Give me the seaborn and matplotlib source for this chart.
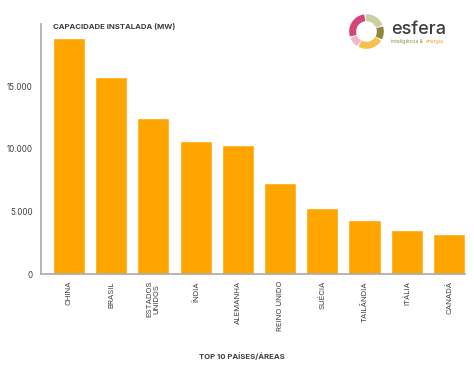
import matplotlib
matplotlib.use("Agg")
import matplotlib.pyplot as plt
import seaborn as sns
import pandas as pd
from matplotlib.patches import Wedge

# data
countries = ["CHINA", "BRASIL", "ESTADOS\nUNIDOS", "ÍNDIA", "ALEMANHA",
             "REINO UNIDO", "SUÉCIA", "TAILÂNDIA", "ITÁLIA", "CANADÁ"]
capacity_mw = [18900, 15800, 12500, 10650, 10330, 7280, 5320, 4360, 3510, 3230]
yticks = [0, 5000, 10000, 15000]
ytick_labels = ["0", "5.000", "10.000", "15.000"]

BAR = "#FFA500"
TXT = "#3f3f3f"
SPINE = "#a9a9a9"

sns.set_style("white")
plt.rcParams["font.family"] = ["Inter", "DejaVu Sans"]

df = pd.DataFrame({"pais": countries, "mw": capacity_mw})

fig = plt.figure(figsize=(4.74, 3.81), dpi=100)
ax = fig.add_axes([41 / 474, 1 - 274 / 381, (465 - 41) / 474, (274 - 24) / 381])

sns.barplot(data=df, x="pais", y="mw", color=BAR, width=0.76, saturation=1, ax=ax)

ax.set_xlim(-0.66, 9.38)
ax.set_ylim(0, 20000)
ax.set_yticks(yticks)
ax.set_yticklabels(ytick_labels, fontsize=5.8, color=TXT)
ax.tick_params(axis="y", length=0, pad=6)
ax.tick_params(axis="x", length=0, pad=5)
for lab in ax.get_xticklabels():
    lab.set_rotation(90)
    lab.set_fontsize(5.6)
    lab.set_color(TXT)
    lab.set_multialignment("center")
ax.set_xlabel("")
ax.set_ylabel("")

for side in ["top", "right"]:
    ax.spines[side].set_visible(False)
for side in ["left", "bottom"]:
    ax.spines[side].set_color(SPINE)
    ax.spines[side].set_linewidth(1.2)

fig.text(53 / 474, 1 - 27 / 381, "CAPACIDADE INSTALADA (MW)", fontsize=5.6,
         fontweight="bold", color=TXT, ha="left", va="center")
fig.text(242 / 474, 1 - 356 / 381, "TOP 10 PAÍSES/ÁREAS", fontsize=5.6,
         fontweight="bold", color=TXT, ha="center", va="center")

# logo
lax = fig.add_axes([349 / 474, 1 - 49 / 381, 35 / 474, 35 / 381])
lax.set_xlim(-1, 1)
lax.set_ylim(-1, 1)
lax.set_aspect("equal")
lax.axis("off")
for t1, t2, col in [(100, 195, "#d4467a"), (205, 235, "#f1b8c9"),
                    (245, 325, "#f2c14e"), (335, 15, "#8c8a3a"),
                    (25, 90, "#c9cfa0")]:
    lax.add_patch(Wedge((0, 0), 0.95, t1, t2, width=0.32, color=col))

fig.text(391 / 474, 1 - 29 / 381, "esfera", fontsize=13, color="#3d3d3d",
         ha="left", va="center", fontweight="medium")
fig.text(391 / 474, 1 - 41 / 381, "inteligência &", fontsize=3.6,
         color="#8c8a3a", ha="left", va="center")
fig.text(426 / 474, 1 - 41 / 381, "energia", fontsize=3.6,
         color="#f0a020", ha="left", va="center")

fig.savefig("out.png", dpi=100)
